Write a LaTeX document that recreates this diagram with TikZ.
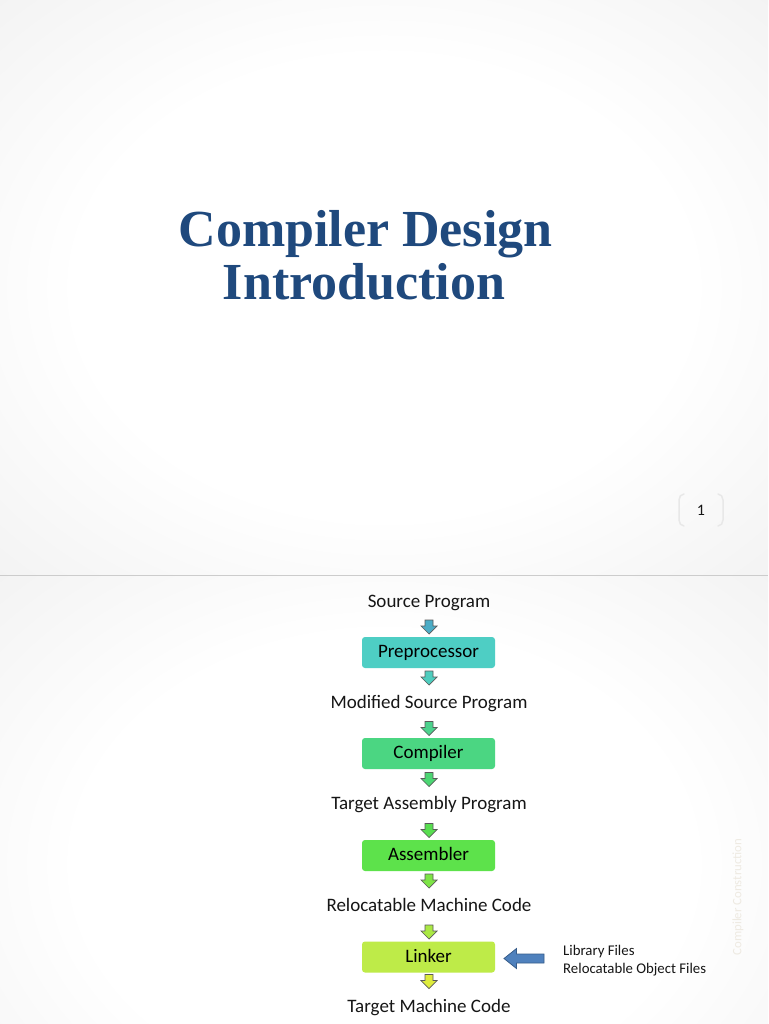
\documentclass[tikz,border=0pt]{standalone}
\usepackage{fontspec}
\setmainfont{Carlito}
\newfontfamily\titlefont{Liberation Serif}
\usetikzlibrary{calc}
\definecolor{titleblue}{RGB}{31,73,125}
\definecolor{txt}{RGB}{22,22,22}
\definecolor{bgA}{RGB}{232,232,232}
\definecolor{bgB}{RGB}{216,216,216}
\definecolor{cPre}{RGB}{78,206,196}
\definecolor{cCom}{RGB}{75,214,130}
\definecolor{cAsm}{RGB}{93,226,75}
\definecolor{cLnk}{RGB}{190,235,72}
\definecolor{aA}{RGB}{75,172,198}
\definecolor{aB}{RGB}{78,205,190}
\definecolor{aC}{RGB}{75,210,140}
\definecolor{aD}{RGB}{76,214,115}
\definecolor{aE}{RGB}{88,222,80}
\definecolor{aF}{RGB}{125,228,70}
\definecolor{aG}{RGB}{170,232,68}
\definecolor{aH}{RGB}{222,236,60}
\definecolor{lblue}{RGB}{79,129,189}
\definecolor{lblueD}{RGB}{56,93,138}
\definecolor{faint}{RGB}{238,234,226}
\pgfdeclareradialshading{slidebg}{\pgfpoint{0bp}{0bp}}{color(0bp)=(white); color(20bp)=(white); color(50bp)=(bgA); color(71bp)=(bgB)}
\newcommand\blkdown[2]{\draw[shift={(#1)}, draw=black!65, line width=0.7pt, fill=#2, line join=miter] (-4,-7) -- (4,-7) -- (4,-1) -- (8,-1) -- (0,7) -- (-8,-1) -- (-4,-1) -- cycle;}
\tikzset{
  stage/.style={fill=#1, rounded corners=3pt, minimum width=133pt, minimum height=31pt, inner sep=0pt, font=\fontsize{19}{23}\selectfont, text=black, text height=14pt, text depth=4pt},
  lbl/.style={anchor=base, font=\fontsize{19}{23}\selectfont, text=txt, inner sep=0pt},
  side/.style={anchor=base west, font=\fontsize{14.8}{18}\selectfont, text=txt, inner sep=0pt}
}
\begin{document}
\begin{tikzpicture}[x=1pt,y=-1pt]
\useasboundingbox (0,0) rectangle (768,1024);
% backgrounds
\shade[shading=slidebg] (0,0) rectangle (768,575);
\begin{scope}
\clip (0,576) rectangle (768,1024);
\shade[shading=slidebg] (0,576) rectangle (768,1152);
\end{scope}
\draw[draw=black!20, line width=0.8pt] (0,575.5) -- (768,575.5);
% title slide
\node[anchor=base, inner sep=0pt, text=titleblue, font=\titlefont\bfseries\fontsize{52}{60}\selectfont] (t1) at (365.5,246) {Compiler Design};
\node[anchor=base, inner sep=0pt, text=titleblue, font=\titlefont\bfseries\fontsize{52}{60}\selectfont] (t2) at (364,299) {Introduction};
\node[anchor=base, inner sep=0pt, text=txt, font=\fontsize{16}{19}\selectfont] (pg) at (701,515) {1};
\draw[draw=black!9, line width=1.5pt, line cap=round] (684,494) to[out=180,in=90] (679,500) -- (679,520) to[out=-90,in=180] (684,526);
\draw[draw=black!9, line width=1.5pt, line cap=round] (718,494) to[out=0,in=90] (723,500) -- (723,520) to[out=-90,in=0] (718,526);
% flow
\node[lbl] (src) at (429,607) {Source Program};
\node[stage=cPre] (pre) at (428.5,652.5) {Preprocessor};
\node[lbl] (mod) at (429,708) {Modified Source Program};
\node[stage=cCom] (com) at (428.5,753.5) {Compiler};
\node[lbl] (tap) at (429,809.5) {Target Assembly Program};
\node[stage=cAsm] (asm) at (428.5,855.5) {Assembler};
\node[lbl] (rmc) at (429,911.5) {Relocatable Machine Code};
\node[stage=cLnk] (lnk) at (428.5,957) {Linker};
\node[lbl] (tmc) at (429,1012.5) {Target Machine Code};
\node[side] (lib) at (563,955) {Library Files};
\node[side] (rof) at (563,973) {Relocatable Object Files};
\node[rotate=90, inner sep=0pt, text=faint, font=\fontsize{12.8}{15}\selectfont] (cc) at (738,897) {Compiler Construction};
\coordinate (a1) at (429,627);
\coordinate (a2) at (429,678);
\coordinate (a3) at (429,728.5);
\coordinate (a4) at (429,779.5);
\coordinate (a5) at (429,830.5);
\coordinate (a6) at (429,881);
\coordinate (a7) at (429,932);
\coordinate (a8) at (429,981.5);
\blkdown{a1}{aA}
\blkdown{a2}{aB}
\blkdown{a3}{aC}
\blkdown{a4}{aD}
\blkdown{a5}{aE}
\blkdown{a6}{aF}
\blkdown{a7}{aG}
\blkdown{a8}{aH}
\coordinate (la) at (524,958.5);
\draw[shift={(la)}, draw=lblueD, line width=0.8pt, fill=lblue, line join=miter] (-20,0) -- (-7.5,-10) -- (-7.5,-4.5) -- (20,-4.5) -- (20,4.5) -- (-7.5,4.5) -- (-7.5,10) -- cycle;
\end{tikzpicture}
\end{document}
